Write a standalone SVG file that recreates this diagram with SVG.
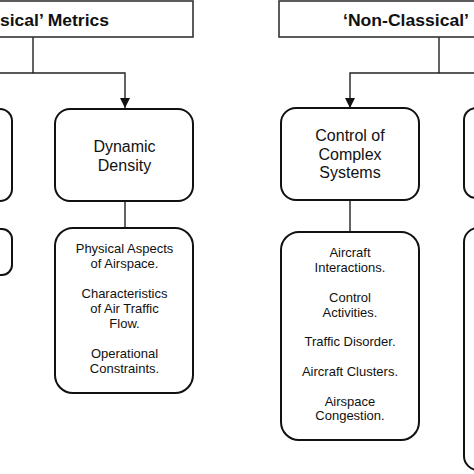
<svg xmlns="http://www.w3.org/2000/svg" width="474" height="474" viewBox="0 0 474 474">
<style>
.hdr{fill:#fff;stroke:#333;stroke-width:1.6}
.box{fill:#fff;stroke:#111;stroke-width:2}
.ht{font-family:"Liberation Sans",Arial,sans-serif;font-weight:bold;font-size:17px;fill:#111}
.bt{font-family:"Liberation Sans",Arial,sans-serif;font-size:16px;fill:#111;text-anchor:middle}
.st{font-family:"Liberation Sans",Arial,sans-serif;font-size:13px;fill:#111;text-anchor:middle}
.ln{fill:none;stroke:#222;stroke-width:1.4}
</style>
<defs>
<marker id="arr" viewBox="0 0 10 10" refX="10" refY="5" markerWidth="10" markerHeight="10" markerUnits="userSpaceOnUse" orient="auto">
<path d="M0,0 L10,5 L0,10 Z" fill="#111"/>
</marker>
</defs>
<rect width="474" height="474" fill="#fff"/>
<g id="connectors">
<path class="ln" d="M33,37 V73 H0"/>
<path class="ln" d="M33,73 H125 V108" marker-end="url(#arr)"/>
<path class="ln" d="M439,37 V73 H474"/>
<path class="ln" d="M439,73 H350 V108" marker-end="url(#arr)"/>
<path class="ln" d="M125,201 V228"/>
<path class="ln" d="M350,200 V232"/>
</g>
<g id="header-classical">
<rect class="hdr" x="-40" y="1" width="233" height="36"/>
<text class="ht" x="0" y="26" textLength="109" lengthAdjust="spacingAndGlyphs">sical’ Metrics</text>
</g>
<g id="header-nonclassical">
<rect class="hdr" x="279" y="1" width="240" height="36"/>
<text class="ht" x="343" y="26" textLength="126" lengthAdjust="spacingAndGlyphs">‘Non-Classical’</text>
</g>
<g id="left-partial-1"><rect class="box" x="-60" y="109" width="72" height="92" rx="12"/></g>
<g id="left-partial-2"><rect class="box" x="-60" y="229" width="72" height="46" rx="10"/></g>
<g id="dynamic-density">
<rect class="box" x="55" y="109" width="138" height="92" rx="15"/>
<text class="bt" x="124.5" y="152">Dynamic</text>
<text class="bt" x="124.5" y="171">Density</text>
</g>
<g id="dd-factors">
<rect class="box" x="55" y="228" width="138" height="165" rx="18"/>
<text class="st" x="124.5" y="253">Physical Aspects</text>
<text class="st" x="124.5" y="268">of Airspace.</text>
<text class="st" x="124.5" y="298">Characteristics</text>
<text class="st" x="124.5" y="313">of Air Traffic</text>
<text class="st" x="124.5" y="328">Flow.</text>
<text class="st" x="124.5" y="358">Operational</text>
<text class="st" x="124.5" y="373">Constraints.</text>
</g>
<g id="control-complex">
<rect class="box" x="281" y="108" width="138" height="92" rx="15"/>
<text class="bt" x="350" y="141">Control of</text>
<text class="bt" x="350" y="160">Complex</text>
<text class="bt" x="350" y="178">Systems</text>
</g>
<g id="ccs-factors">
<rect class="box" x="281" y="232" width="138" height="208" rx="18"/>
<text class="st" x="350" y="257">Aircraft</text>
<text class="st" x="350" y="272">Interactions.</text>
<text class="st" x="350" y="302">Control</text>
<text class="st" x="350" y="317">Activities.</text>
<text class="st" x="350" y="346">Traffic Disorder.</text>
<text class="st" x="350" y="376">Aircraft Clusters.</text>
<text class="st" x="350" y="406">Airspace</text>
<text class="st" x="350" y="420">Congestion.</text>
</g>
<g id="right-partial-1"><rect class="box" x="464" y="108" width="80" height="90" rx="12"/></g>
<g id="right-partial-2"><rect class="box" x="464" y="228" width="80" height="242" rx="14"/></g>
</svg>
